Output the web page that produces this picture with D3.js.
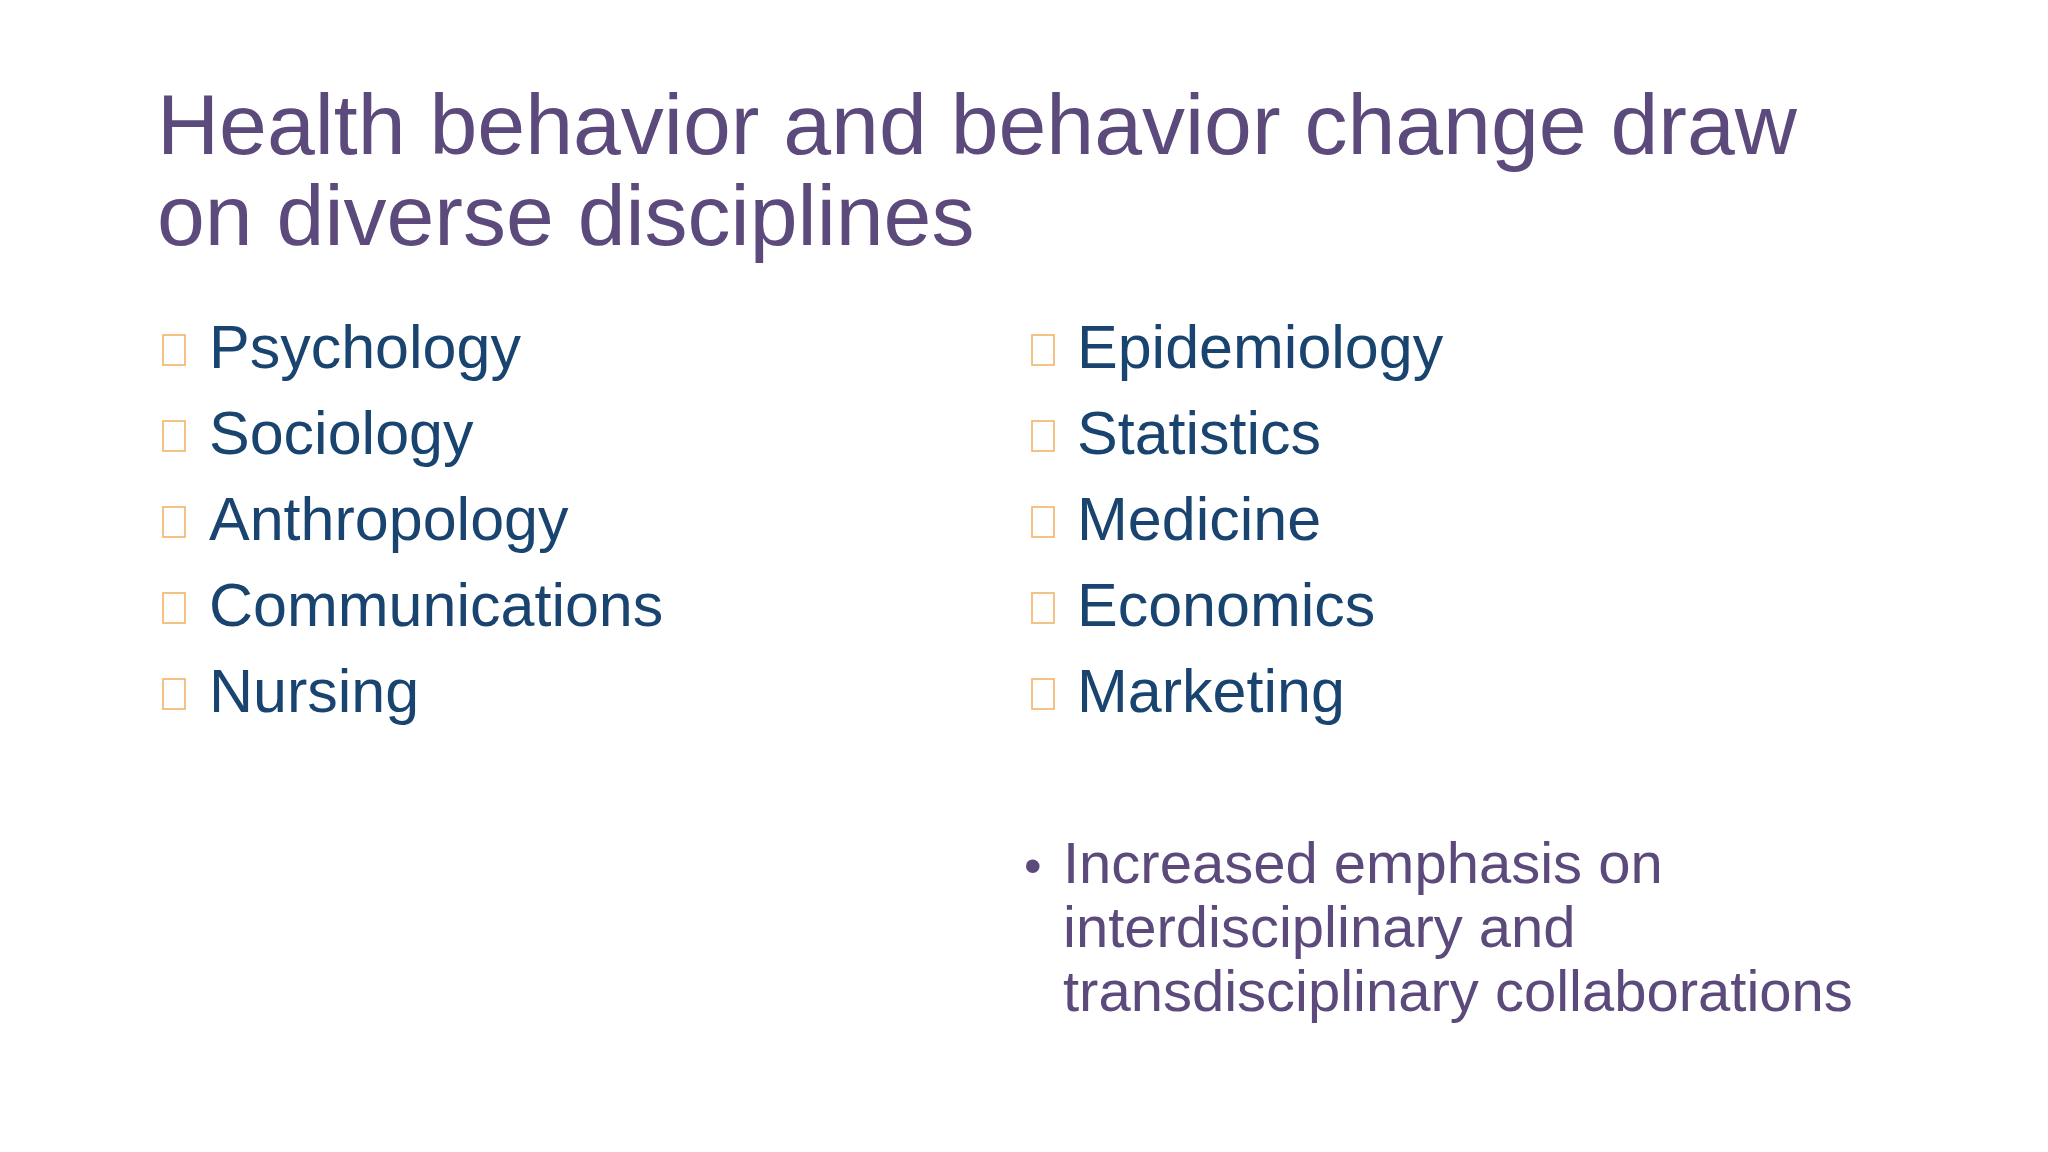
<!DOCTYPE html>
<html><head><meta charset="utf-8">
<script src="https://cdn.jsdelivr.net/npm/d3@7"></script>
<style>body{margin:0;background:#fff}</style></head>
<body><svg id="c" width="2048" height="1152"></svg>
<script>
const titleLines = ["Health behavior and behavior change draw", "on diverse disciplines"];
const leftItems = ["Psychology", "Sociology", "Anthropology", "Communications", "Nursing"];
const rightItems = ["Epidemiology", "Statistics", "Medicine", "Economics", "Marketing"];
const noteLines = ["Increased emphasis on", "interdisciplinary and", "transdisciplinary collaborations"];

const svg = d3.select("#c");
const font = "Liberation Sans, Arial, sans-serif";
svg.append("rect").attr("width",2048).attr("height",1152).attr("fill","#fff");

svg.selectAll(".t").data(titleLines).join("text")
  .attr("x",157).attr("y",(d,i)=>154+i*91)
  .attr("font-family",font).attr("font-size",86).attr("fill","#5b4a7b").text(d=>d);

const rowY = d3.scaleLinear().domain([0,1]).range([368,454]);
function col(items, bx, tx){
  const g = svg.append("g");
  g.selectAll("rect").data(items).join("rect")
    .attr("x",bx).attr("y",(d,i)=>rowY(i)-33).attr("width",22).attr("height",30)
    .attr("fill","none").attr("stroke","#f2b366").attr("stroke-width",1.6);
  g.selectAll("text").data(items).join("text")
    .attr("x",tx).attr("y",(d,i)=>rowY(i))
    .attr("font-family",font).attr("font-size",61).attr("fill","#1a4470").text(d=>d);
}
col(leftItems,163,209);
col(rightItems,1032,1077);

svg.append("text").attr("x",1024).attr("y",883).attr("font-family",font)
  .attr("font-size",50).attr("fill","#5b4a7b").text("•");
svg.selectAll(".n").data(noteLines).join("text")
  .attr("x",1063).attr("y",(d,i)=>883+i*64)
  .attr("font-family",font).attr("font-size",58).attr("fill","#5b4a7b").text(d=>d);
</script></body></html>
